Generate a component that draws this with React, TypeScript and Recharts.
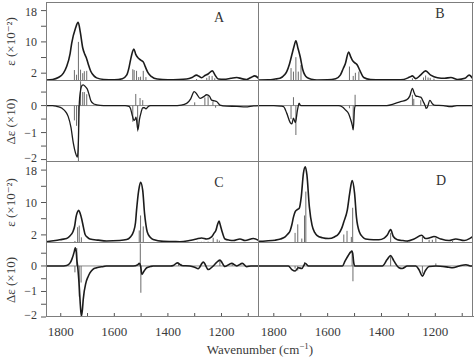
import { ComposedChart, Line, XAxis, YAxis, ReferenceLine } from "recharts";

type Pt = [number, number];

// wavenumber axis
const xTicks = [1800, 1700, 1600, 1500, 1400, 1300, 1200, 1100];
const xLabels = [1800, 1600, 1400, 1200];
const epsTicks = [2, 6, 10, 14, 18];
const epsLabels = [2, 10, 18];
const deTicks = [-2, -1.5, -1, -0.5, 0, 0.5];
const deLabels = [-2, -1, 0];

// panel A
const aEps: Pt[] = [
  [1855, 0.25], [1830, 0.4], [1809, 0.9], [1790, 2.0], [1778, 3.7], [1765, 7.0],
  [1759, 9.7], [1745, 13.5], [1735, 15.0], [1727, 12.5], [1718, 8.5], [1710, 6.8],
  [1706, 6.2], [1698, 4.5], [1688, 2.5], [1676, 1.3], [1666, 0.8], [1640, 0.4],
  [1600, 0.3], [1570, 0.6], [1554, 1.5], [1545, 3.5], [1540, 5.2], [1532, 7.5],
  [1527, 8.2], [1520, 6.8], [1510, 5.8], [1500, 5.3], [1492, 4.9], [1484, 3.6],
  [1475, 2.2], [1461, 1.1], [1440, 0.5], [1400, 0.3], [1360, 0.35], [1330, 0.5],
  [1310, 0.9], [1293, 1.5], [1284, 1.2], [1274, 0.85], [1262, 1.4], [1250, 1.8],
  [1234, 2.6], [1224, 1.5], [1212, 0.5], [1190, 0.45], [1165, 0.7], [1143, 0.9],
  [1125, 0.6], [1106, 0.4], [1090, 0.9], [1076, 1.3], [1060, 0.6],
];
const aEpsSticks: Pt[] = [
  [1749, 2.8], [1741, 1.6], [1734, 10], [1726, 2.9], [1718, 2.0], [1712, 2.5], [1703, 2.6],
  [1531, 3.0], [1526, 2.8], [1517, 2.6], [1509, 1.0], [1502, 1.1], [1492, 2.6], [1482, 1.0],
  [1293, 0.5], [1255, 0.8], [1246, 1.3], [1235, 1.3], [1225, 0.7], [1205, 0.4],
];
const aDe: Pt[] = [
  [1855, 0], [1830, 0], [1815, -0.03], [1795, -0.1], [1780, -0.25], [1772, -0.41],
  [1762, -0.8], [1753, -1.39], [1745, -1.75], [1738, -1.91], [1734, -1.3], [1731, 0],
  [1727, 0.5], [1720, 0.75], [1716, 0.77], [1708, 0.7], [1701, 0.61], [1694, 0.4],
  [1688, 0.19], [1678, 0.07], [1666, 0.03], [1640, 0], [1560, 0], [1545, -0.03],
  [1540, -0.1], [1532, -0.4], [1527, -0.55], [1522, -0.5], [1519, -0.43], [1512, -0.9],
  [1506, -0.5], [1500, -0.25], [1494, -0.08], [1488, -0.08], [1482, -0.12], [1475, -0.05],
  [1465, 0], [1380, 0], [1350, 0.02], [1330, 0.08], [1315, 0.25], [1302, 0.52],
  [1292, 0.42], [1280, 0.27], [1268, 0.32], [1255, 0.4], [1245, 0.35], [1237, 0.2],
  [1225, 0.17], [1218, 0.15], [1206, 0.02], [1180, -0.02], [1143, -0.03], [1110, -0.05],
  [1080, -0.01], [1060, 0],
];
const aDeSticks: Pt[] = [
  [1749, -0.55], [1741, -0.75], [1734, -2.08], [1726, 0.9], [1718, 0.5], [1712, 0.5], [1703, 0.42],
  [1531, -0.6], [1520, 0.43], [1513, -0.96], [1504, 0.28], [1494, 0.2],
  [1300, 0.12], [1262, 0.3], [1250, 0.35], [1232, 0.15], [1222, -0.08],
];

// panel B
const bEps: Pt[] = [
  [1855, 0.25], [1820, 0.3], [1795, 0.5], [1777, 0.7], [1760, 1.6], [1752, 2.4],
  [1742, 4.3], [1733, 6.7], [1725, 8.8], [1718, 10.3], [1710, 8.3], [1702, 6.2],
  [1692, 2.8], [1677, 0.9], [1660, 0.45], [1640, 0.26], [1600, 0.3], [1570, 0.6],
  [1553, 1.5], [1542, 3.2], [1534, 4.5], [1522, 7.4], [1515, 6.3], [1509, 5.4],
  [1500, 4.7], [1490, 4.1], [1481, 2.8], [1466, 0.9], [1441, 0.4], [1400, 0.3],
  [1340, 0.3], [1317, 0.4], [1295, 1.0], [1285, 1.3], [1273, 0.6], [1255, 1.5],
  [1236, 2.6], [1217, 1.5], [1192, 0.85], [1165, 0.7], [1142, 0.9], [1117, 0.4],
  [1090, 0.7], [1074, 1.5], [1060, 0.5],
];
const bEpsSticks: Pt[] = [
  [1736, 3.3], [1727, 2.4], [1718, 6.1], [1709, 2.4], [1699, 4.1],
  [1519, 3.7], [1505, 1.3], [1497, 2.1], [1484, 2.4],
  [1285, 0.7], [1244, 0.9], [1236, 1.4], [1227, 0.9], [1219, 0.8], [1205, 0.6],
];
const bDe: Pt[] = [
  [1855, 0], [1800, 0], [1775, -0.02], [1764, -0.04], [1752, -0.28], [1739, -0.63],
  [1733, -0.68], [1727, -0.47], [1720, -0.63], [1712, -0.16], [1706, 0.08], [1700, 0],
  [1560, 0], [1545, -0.05], [1534, -0.16], [1522, -0.3], [1515, -0.5], [1508, -0.75],
  [1505, -0.9], [1500, -0.1], [1497, 0], [1380, 0], [1354, 0.06], [1329, 0.15],
  [1307, 0.21], [1295, 0.35], [1285, 0.64], [1279, 0.48], [1273, 0.36], [1262, 0.33],
  [1254, 0.31], [1242, 0.09], [1232, -0.1], [1220, 0.19], [1212, 0.08], [1205, 0.02],
  [1170, 0], [1142, -0.04], [1120, 0], [1060, 0],
];
const bDeSticks: Pt[] = [
  [1736, -0.5], [1727, 0.31], [1718, -1.09], [1706, 0.1],
  [1519, -0.1], [1505, -0.8], [1498, 0.4],
  [1285, 0.4], [1280, 0.25], [1254, 0.2], [1236, -0.12],
];

// panel C
const cEps: Pt[] = [
  [1855, 0.3], [1820, 0.6], [1795, 0.9], [1778, 1.1], [1765, 1.8], [1755, 2.7],
  [1748, 4.2], [1743, 6.4], [1738, 7.6], [1733, 8.1], [1728, 7.4], [1722, 6.0],
  [1715, 3.8], [1709, 2.1], [1700, 1.4], [1691, 1.0], [1660, 0.7], [1629, 0.5],
  [1580, 0.6], [1554, 0.84], [1540, 1.5], [1529, 2.7], [1521, 5.0], [1517, 8.1],
  [1509, 13.0], [1502, 15.0], [1494, 13.0], [1487, 7.2], [1482, 4.5], [1477, 2.7],
  [1466, 1.4], [1455, 0.84], [1417, 0.4], [1380, 0.35], [1355, 0.3], [1320, 0.6],
  [1293, 1.0], [1274, 1.24], [1255, 1.0], [1237, 1.5], [1227, 2.5], [1221, 3.1],
  [1215, 4.5], [1209, 5.4], [1204, 4.3], [1199, 3.1], [1187, 1.0], [1170, 0.7],
  [1156, 0.6], [1131, 1.0], [1112, 0.6], [1081, 1.1], [1060, 0.6],
];
const cEpsSticks: Pt[] = [
  [1747, 0.5], [1737, 3.9], [1731, 4.3], [1723, 1.4],
  [1507, 3.1], [1502, 6.8], [1492, 4.1],
  [1290, 0.3], [1275, 0.3], [1265, 0.3], [1250, 0.35], [1231, 1.3], [1216, 0.9], [1208, 0.6],
];
const cDe: Pt[] = [
  [1855, 0], [1800, 0], [1778, 0.02], [1765, 0.12], [1759, 0.25], [1749, 0.58],
  [1746, 0.71], [1742, 0.55], [1740, 0.25], [1737, 0], [1731, -0.79], [1727, -1.5],
  [1723, -1.97], [1719, -1.7], [1716, -1.31], [1706, -0.66], [1698, -0.42], [1691, -0.27],
  [1680, -0.13], [1666, -0.07], [1640, -0.02], [1629, 0], [1530, 0], [1512, 0.05],
  [1507, 0.1], [1502, 0], [1497, -0.33], [1489, -0.2], [1479, -0.07], [1465, -0.02],
  [1455, 0], [1390, 0], [1380, 0.02], [1365, 0.12], [1349, 0.02], [1318, 0],
  [1300, -0.05], [1287, -0.11], [1268, 0.15], [1249, -0.14], [1231, 0], [1220, 0.12],
  [1206, 0.23], [1187, -0.02], [1162, 0.1], [1143, 0], [1122, 0.1], [1106, -0.03],
  [1090, 0], [1060, 0],
];
const cDeSticks: Pt[] = [
  [1747, -0.25], [1740, 0.7], [1731, -1.2], [1724, -0.65],
  [1503, 0.88], [1501, -1.05],
  [1360, 0.1], [1350, 0.08], [1206, 0.2], [1160, 0.06],
];

// panel D
const dEps: Pt[] = [
  [1855, 0.4], [1830, 0.5], [1795, 0.7], [1775, 1.0], [1758, 1.5], [1748, 2.2],
  [1739, 3.1], [1733, 4.5], [1727, 6.4], [1720, 7.8], [1714, 8.2], [1706, 8.5],
  [1698, 11.4], [1690, 17.2], [1683, 18.8], [1677, 16.8], [1668, 9.0], [1658, 4.4],
  [1648, 2.6], [1640, 1.9], [1620, 1.3], [1596, 1.1], [1575, 1.5], [1559, 2.3],
  [1548, 3.6], [1540, 5.2], [1527, 8.1], [1518, 12.3], [1509, 15.4], [1500, 12.3],
  [1493, 6.4], [1482, 2.7], [1470, 1.5], [1459, 1.0], [1430, 0.8], [1410, 0.8],
  [1390, 1.2], [1379, 1.9], [1366, 3.3], [1356, 1.6], [1341, 0.8], [1320, 0.6],
  [1304, 0.5], [1279, 1.0], [1251, 1.9], [1236, 1.1], [1220, 1.3], [1205, 1.6],
  [1180, 1.0], [1149, 0.6], [1124, 1.0], [1093, 0.6], [1070, 1.2], [1060, 1.6],
];
const dEpsSticks: Pt[] = [
  [1721, 2.5], [1711, 4.6], [1696, 1.1], [1686, 6.8], [1681, 12.7],
  [1540, 2.1], [1528, 3.0], [1512, 1.5], [1507, 8.7],
  [1366, 2.5], [1304, 0.5], [1248, 1.5], [1223, 0.8], [1211, 0.8], [1198, 1.2], [1136, 0.5],
];
const dDe: Pt[] = [
  [1855, 0], [1760, 0], [1746, 0], [1733, -0.14], [1721, -0.2], [1709, -0.07],
  [1696, -0.1], [1683, 0.1], [1671, 0], [1560, 0], [1545, 0], [1535, 0.2],
  [1524, 0.4], [1515, 0.54], [1510, 0.58], [1507, 0.5], [1503, 0.12], [1499, 0],
  [1410, 0], [1397, 0], [1379, 0.25], [1366, 0.41], [1354, 0.2], [1335, -0.07],
  [1323, -0.1], [1304, 0], [1273, 0], [1261, -0.14], [1248, -0.4], [1238, -0.2],
  [1223, -0.02], [1198, 0], [1150, -0.05], [1136, -0.07], [1111, 0], [1086, 0.05],
  [1070, 0], [1060, 0],
];
const dDeSticks: Pt[] = [
  [1721, -0.1], [1711, -0.18], [1686, 0.15],
  [1509, 0.6], [1506, -0.6], [1366, 0.4], [1248, -0.3], [1198, 0.1],
];

const FONT = '"Liberation Serif", "DejaVu Serif", serif';
const INK = "#1c1c1c";
const STICK = "#6c6c6c";
const FRAME = "#7d7d7d";
const TEXT = "#3a3a3a";

// y tick label; the top/bottom labels of neighbouring panels sit close, nudge them apart a bit
function YTick(props: any) {
  const { x, y, payload, kind } = props;
  const v = payload.value as number;
  const shown = kind === "eps" ? epsLabels : deLabels;
  if (!shown.includes(v)) return null;
  let dy = 0;
  if (kind === "de" && v === -2) dy = -2;
  if (kind === "eps" && v === 18) dy = 1;
  return (
    <text
      x={x - 2}
      y={y + dy}
      textAnchor="end"
      dominantBaseline="central"
      fill={TEXT}
      fontSize={12}
      fontFamily={FONT}
    >
      {String(v).replace("-", "−")}
    </text>
  );
}

interface PanelProps {
  curve: Pt[];
  sticks: Pt[];
  kind: "eps" | "de";
  yDomain: [number, number];
  left: number;
  top: number;
  plotH: number;
  showY?: boolean;
  showX?: boolean;
  curveW?: number;
}

function Panel({ curve, sticks, kind, yDomain, left, top, plotH, showY, showX, curveW = 1.6 }: PanelProps) {
  const rows = curve.map(([w, v]) => ({ w, v }));
  const yAxisW = showY ? 46 : 0;
  const xAxisH = showX ? 44 : 0;
  // room below the plot so the lowest tick label is not clipped
  const padB = showX ? 0 : 8;
  const plotW = showY ? 213 : 214;
  const ticks = kind === "eps" ? epsTicks : deTicks;
  const title = kind === "eps" ? "ε (×10⁻²)" : "Δε (×10)";
  return (
    <div style={{ position: "absolute", left: showY ? 0 : left, top, pointerEvents: "none" }}>
      <ComposedChart
        width={plotW + yAxisW}
        height={plotH + xAxisH + padB}
        data={rows}
        margin={{ top: 0, right: 0, bottom: padB, left: 0 }}
      >
        <XAxis
          type="number"
          dataKey="w"
          domain={[1060, 1855]}
          reversed
          allowDataOverflow
          ticks={xTicks}
          interval={0}
          hide={!showX}
          height={xAxisH}
          axisLine={false}
          tickSize={-4}
          tickMargin={14}
          tickLine={{ stroke: "#555" }}
          tickFormatter={(v: number) => (xLabels.includes(v) ? String(v) : "")}
          tick={{ fill: TEXT, fontSize: 13, fontFamily: FONT }}
        />
        <YAxis
          type="number"
          domain={yDomain}
          allowDataOverflow
          ticks={ticks}
          interval={0}
          hide={!showY}
          width={yAxisW}
          axisLine={false}
          tickSize={5}
          tickLine={{ stroke: "#555" }}
          tick={<YTick kind={kind} />}
          label={{
            value: title,
            angle: -90,
            position: "insideLeft",
            offset: 10,
            style: { textAnchor: "middle", fill: TEXT, fontSize: 13, fontFamily: FONT },
          }}
        />
        {kind === "de" && <ReferenceLine y={0} stroke="#8a8a8a" strokeWidth={1} />}
        {sticks.map(([w, h], i) => (
          <ReferenceLine
            key={i}
            segment={[{ x: w, y: 0 }, { x: w, y: h }]}
            stroke={STICK}
            strokeWidth={1}
            ifOverflow="visible"
          />
        ))}
        <Line
          dataKey="v"
          type="monotone"
          dot={false}
          stroke={INK}
          strokeWidth={curveW}
          isAnimationActive={false}
        />
      </ComposedChart>
    </div>
  );
}

const line = (l: number, t: number, w: number, h: number) => (
  <div style={{ position: "absolute", left: l, top: t, width: w, height: h, background: FRAME }} />
);

const letter = (s: string, x: number, y: number) => (
  <div
    style={{
      position: "absolute", left: x - 10, top: y - 9, width: 20, textAlign: "center",
      fontSize: 14, fontFamily: FONT, color: "#333", lineHeight: "18px",
    }}
  >
    {s}
  </div>
);

export default function App() {
  return (
    <div
      style={{
        position: "absolute", left: 0, top: 0, width: 474, height: 361,
        background: "#fff", overflow: "hidden", fontFamily: FONT,
      }}
    >
      <Panel curve={aEps} sticks={aEpsSticks} kind="eps" yDomain={[0, 20.2]} left={46} top={2} plotH={79} showY />
      <Panel curve={bEps} sticks={bEpsSticks} kind="eps" yDomain={[0, 20.2]} left={259} top={2} plotH={79} />
      <Panel curve={aDe} sticks={aDeSticks} kind="de" yDomain={[-2.09, 0.91]} left={46} top={81} plotH={81} showY curveW={1.3} />
      <Panel curve={bDe} sticks={bDeSticks} kind="de" yDomain={[-2.09, 0.91]} left={259} top={81} plotH={81} curveW={1.3} />
      <Panel curve={cEps} sticks={cEpsSticks} kind="eps" yDomain={[0, 20]} left={46} top={162} plotH={81} showY />
      <Panel curve={dEps} sticks={dEpsSticks} kind="eps" yDomain={[0, 20]} left={259} top={162} plotH={81} />
      <Panel curve={cDe} sticks={cDeSticks} kind="de" yDomain={[-2, 0.9]} left={46} top={243} plotH={74} showY showX />
      <Panel curve={dDe} sticks={dDeSticks} kind="de" yDomain={[-2, 0.9]} left={259} top={243} plotH={74} showX />

      {/* frame */}
      {line(46, 2, 428, 1)}
      {line(46, 316, 428, 1)}
      {line(46, 2, 1, 315)}
      {line(472, 2, 1, 315)}
      {line(258, 2, 1, 315)}
      {line(46, 80, 427, 1)}
      {line(46, 161, 427, 1)}
      {line(46, 242, 427, 1)}

      {letter("A", 219, 18)}
      {letter("B", 440, 14)}
      {letter("C", 219, 183)}
      {letter("D", 441, 181)}

      <div
        style={{
          position: "absolute", left: 160, top: 341, width: 200, textAlign: "center",
          fontSize: 13, fontFamily: FONT, color: TEXT,
        }}
      >
        Wavenumber (cm<sup style={{ fontSize: 9 }}>−1</sup>)
      </div>
    </div>
  );
}
